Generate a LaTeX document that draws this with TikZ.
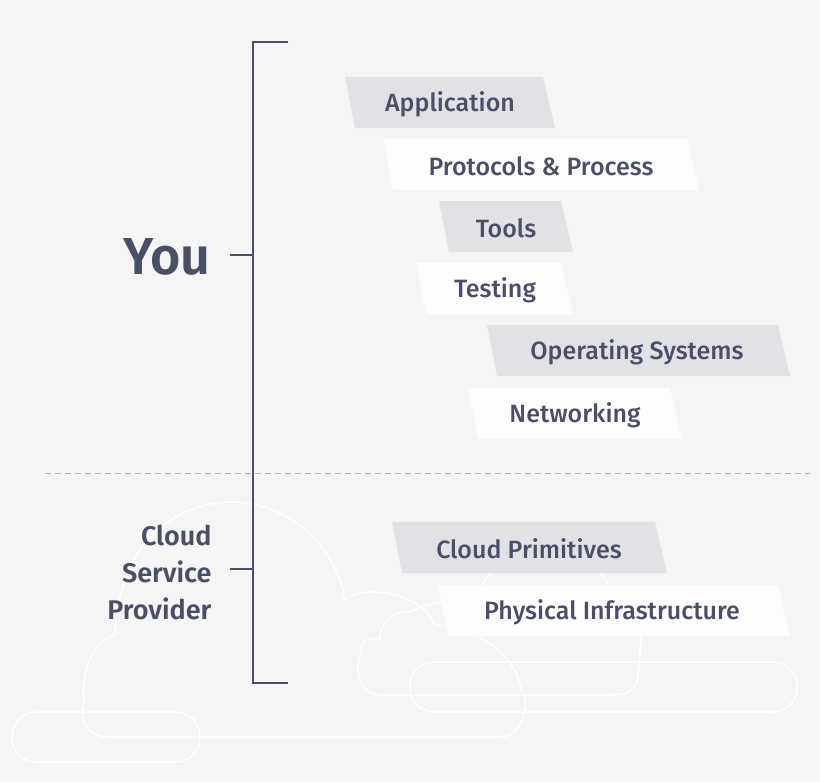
\documentclass[tikz,border=0pt]{standalone}
\usepackage{fontspec}
\setmainfont{Fira Sans}[BoldFont={Fira Sans SemiBold}]
\newfontfamily\labelfont{Fira Sans Medium}
\definecolor{ink}{HTML}{4A4F68}
\definecolor{bg}{HTML}{F5F5F5}
\definecolor{boxgray}{HTML}{E1E2E6}
\definecolor{boxwhite}{HTML}{FDFDFD}
\tikzset{
  layer/.style={text=ink, font=\labelfont\fontsize{25}{28}\selectfont},
  side/.style={text=ink, font=\bfseries\fontsize{27}{37}\selectfont, align=right, anchor=east},
  bracket/.style={draw=ink, line width=2pt},
  cloud line/.style={draw=white, line width=1.5pt}
}
% \layerbox{fill}{top}{left}{right}{name}{x}{text}
\newcommand{\layerbox}[7]{%
  \fill[#1] (#3,#2) -- (#4,#2) -- (#4+12,#2+51) -- (#3+10,#2+51) -- cycle;
  \node[layer] (#5) at (#6,#2+27) {#7};}
\begin{document}
\begin{tikzpicture}[x=1pt, y=-1pt]
\fill[bg] (0,0) rectangle (820,782);
\useasboundingbox (0,0) rectangle (820,782);
% clouds
\draw[cloud line, rounded corners=24pt] (12,712) rectangle (200,762);
\draw[cloud line, rounded corners=24pt] (410,662) rectangle (797,712);
\draw[cloud line] (115,635) .. controls (120,520) and (200,502) .. (230,502)
  .. controls (300,502) and (340,560) .. (345,600)
  .. controls (360,585) and (420,590) .. (435,625)
  .. controls (470,625) and (515,650) .. (521,690)
  .. controls (530,700) and (525,737) .. (500,737) -- (110,737)
  .. controls (84,737) and (80,720) .. (84,700)
  .. controls (80,670) and (95,640) .. (115,635);
\draw[cloud line] (380,640) .. controls (380,620) and (395,610) .. (410,612)
  .. controls (430,600) and (460,600) .. (479,600)
  .. controls (480,540) and (612,540) .. (612,600)
  .. controls (635,600) and (645,620) .. (639,660)
  .. controls (640,690) and (630,695) .. (610,695) -- (380,695)
  .. controls (355,695) and (355,660) .. (362,650)
  .. controls (360,640) and (370,636) .. (380,640);
% divider
\draw[gray!60, dashed, dash pattern=on 6pt off 4pt, line width=1pt] (45,473) -- (810,473);
% bracket
\coordinate (top) at (288,42);
\coordinate (bottom) at (288,683);
\draw[bracket] (top) -| (253,683) -- (bottom);
\coordinate (youtick) at (253,255);
\coordinate (csptick) at (253,569);
\draw[bracket] (youtick) -- ++(-23,0);
\draw[bracket] (csptick) -- ++(-23,0);
\node[side, font=\bfseries\fontsize{52}{56}\selectfont] (you) at (214,257) {You};
\node[side] (csp) at (215,572) {Cloud\\Service\\Provider};
% layers
\layerbox{boxgray}{77}{345}{543}{app}{450}{Application}
\layerbox{boxwhite}{139}{383}{687}{proto}{541}{Protocols \& Process}
\layerbox{boxgray}{201}{439}{561}{tools}{506}{Tools}
\layerbox{boxwhite}{263}{416}{561}{testing}{495}{Testing}
\layerbox{boxgray}{325}{487}{778}{os}{637}{Operating Systems}
\layerbox{boxwhite}{388}{468}{670}{net}{575}{Networking}
\layerbox{boxgray}{522}{392}{655}{prim}{529}{Cloud Primitives}
\layerbox{boxwhite}{585}{438}{778}{phys}{612}{Physical Infrastructure}
\end{tikzpicture}
\end{document}
